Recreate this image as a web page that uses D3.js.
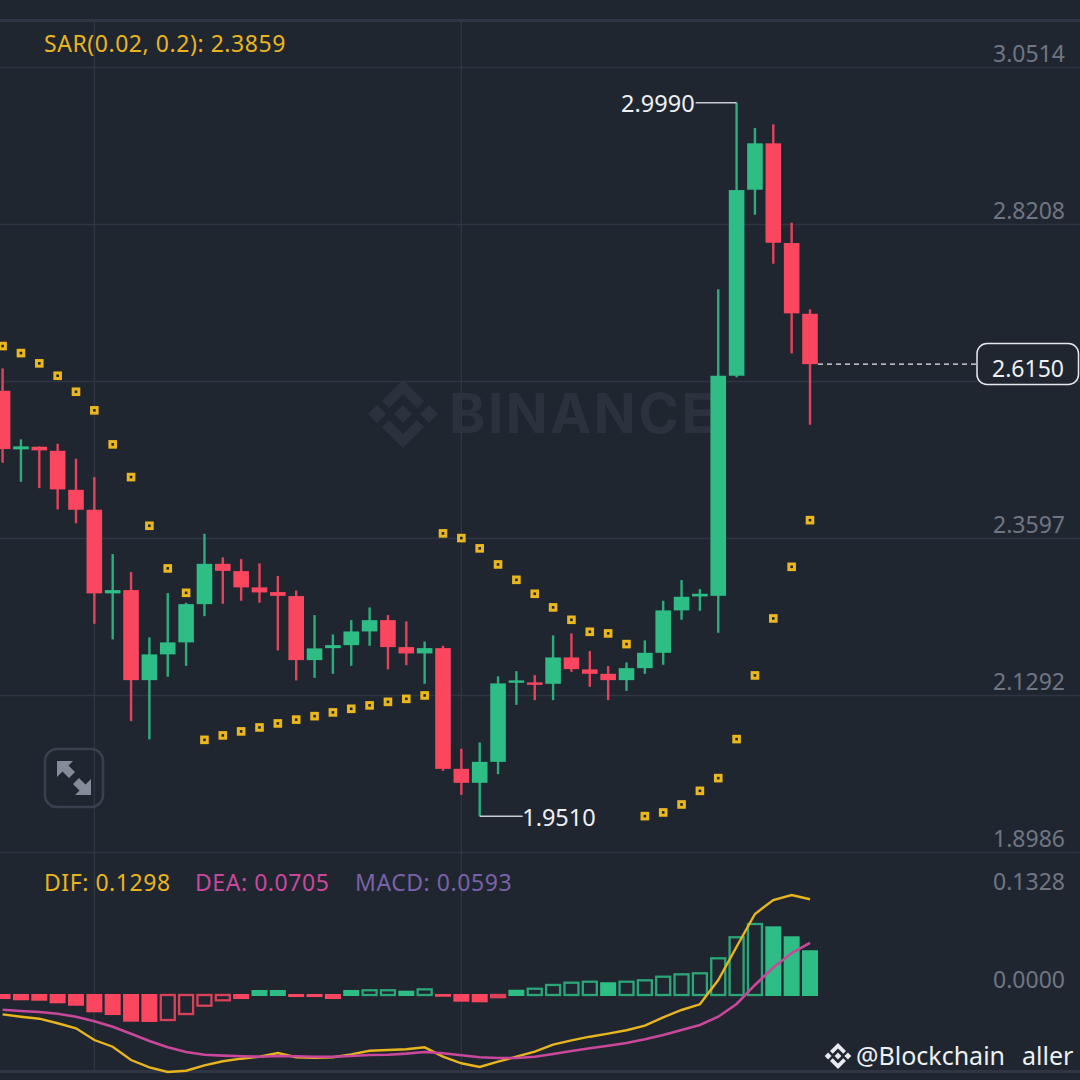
<!DOCTYPE html>
<html>
<head>
<meta charset="utf-8">
<style>
  html, body { margin: 0; padding: 0; background: #1f2630; }
  svg { display: block; }
  text { font-family: "Noto Sans", sans-serif; }
</style>
<script src="https://cdn.jsdelivr.net/npm/d3@7"></script>
</head>
<body>
<svg width="1080" height="1080"></svg>
<script>
// candles, oldest first
const opens = [2.5759,2.4899,2.4937,2.4878,2.4305,2.4012,2.2784,2.2832,2.1510,2.1888,2.2064,2.2626,2.3218,2.3111,2.2872,2.2803,2.2744,2.1804,2.1980,2.2024,2.2225,2.2391,2.1995,2.1902,2.1980,2.0207,2.0002,2.0310,2.1471,2.1476,2.1456,2.1843,2.1667,2.1603,2.1510,2.1686,2.1911,2.2534,2.2739,2.2748,2.5980,2.8712,2.9393,2.7929,2.6890];
const highs = [2.6088,2.5046,2.4943,2.4981,2.4761,2.4492,2.3361,2.3096,2.2137,2.2788,2.2646,2.3659,2.3312,2.3287,2.3224,2.3038,2.2825,2.2465,2.2181,2.2391,2.2578,2.2465,2.2372,2.2078,2.2014,2.0501,2.0595,2.1565,2.1642,2.1584,2.2167,2.2196,2.1936,2.1716,2.1770,2.2093,2.2675,2.2979,2.2847,2.7249,2.9990,2.9618,2.9672,2.8227,2.6955];
const lows = [2.4702,2.4423,2.4330,2.4017,2.3812,2.2337,2.2108,2.0908,2.0639,2.1559,2.1720,2.2450,2.2631,2.2675,2.2646,2.1946,2.1506,2.1544,2.1603,2.1720,2.2014,2.1667,2.1730,2.1456,2.0178,1.9825,1.9510,2.0129,2.1147,2.1216,2.1216,2.1632,2.1412,2.1216,2.1353,2.1603,2.1735,2.2396,2.2528,2.2205,2.5956,2.8345,2.7625,2.6309,2.5260];
const closes = [2.4903,2.4943,2.4884,2.4311,2.4012,2.2784,2.2832,2.1510,2.1888,2.2064,2.2626,2.3218,2.3115,2.2872,2.2798,2.2748,2.1804,2.1976,2.2024,2.2225,2.2391,2.1995,2.1902,2.1980,2.0207,2.0002,2.0310,2.1462,2.1506,2.1441,2.1843,2.1672,2.1603,2.1510,2.1686,2.1911,2.2534,2.2734,2.2778,2.5980,2.8707,2.9393,2.7933,2.6896,2.6150];
const sar = [2.6416,2.6313,2.6162,2.5980,2.5745,2.5472,2.4972,2.4492,2.3777,2.3151,2.2792,2.0633,2.0698,2.0757,2.0815,2.0874,2.0930,2.0981,2.1036,2.1089,2.1139,2.1191,2.1235,2.1285,2.3665,2.3596,2.3445,2.3209,2.2983,2.2778,2.2578,2.2396,2.2220,2.2196,2.2039,1.9513,1.9567,1.9684,1.9884,2.0071,2.0644,2.1579,2.2416,2.3174,2.3859];

// macd panel
const macdHist = [-.0041,-.0058,-.0064,-.0099,-.0132,-.0221,-.0258,-.0348,-.0352,-.0339,-.0258,-.0145,-.0072,-.0041,.0054,.0054,-.0014,-.0014,-.0041,.0054,.0064,.0064,.0045,.0077,-.0010,-.0077,-.0085,-.0030,.0058,.0085,.0136,.0167,.0180,.0159,.0180,.0199,.0248,.0280,.0294,.0497,.0782,.0962,.0917,.0782,.0593];
const dif = [-.0262,-.0294,-.0321,-.0383,-.0451,-.0610,-.0701,-.0881,-.0980,-.1043,-.1026,-.0953,-.0898,-.0863,-.0836,-.0786,-.0844,-.0850,-.0844,-.0804,-.0755,-.0745,-.0736,-.0709,-.0836,-.0925,-.0976,-.0904,-.0836,-.0768,-.0673,-.0614,-.0565,-.0524,-.0478,-.0416,-.0302,-.0203,-.0126,.0203,.0654,.1098,.1287,.1355,.1298];
const dea = [-.0199,-.0217,-.0230,-.0253,-.0294,-.0356,-.0430,-.0524,-.0623,-.0709,-.0772,-.0809,-.0822,-.0831,-.0836,-.0827,-.0831,-.0836,-.0836,-.0827,-.0813,-.0809,-.0795,-.0772,-.0790,-.0817,-.0844,-.0854,-.0854,-.0836,-.0799,-.0759,-.0722,-.0687,-.0650,-.0600,-.0542,-.0474,-.0407,-.0294,-.0122,.0136,.0373,.0569,.0705];
// bars drawn as outlines in the picture
const hollowBars = [9,10,11,12,20,21,23,27,29,30,31,32,34,35,36,37,38,39,40,41];

const priceGrid = [3.0514,2.8208,2.5903,2.3597,2.1292,1.8986];
const priceLabels = [3.0514,2.8208,2.3597,2.1292,1.8986];
const macdLabels = [0.1328,0];
const lastPrice = 2.6150;
const highMark = 2.9990;
const lowMark = 1.9510;
const timeGrid = [5,25];   // candle index of the two vertical grid lines

const UP = '#2ebd85', DOWN = '#fb4660', BG = '#1f2630', GRID = '#2f3542', AXIS = '#6f7683';
const YELLOW = '#e8b51f', PINK = '#c9489c', PURPLE = '#7a62a8';

const svg = d3.select('svg');
const x = d3.scaleLinear().domain([0, 44]).range([2.6, 810]);
const y = d3.scaleLinear().domain([1.8986, 3.0514]).range([852, 67]);
const yM = d3.scaleLinear().domain([0, 0.1328]).range([995, 897]);
const idx = d3.range(opens.length);

svg.append('rect').attr('width', 1080).attr('height', 1080).attr('fill', BG);

// frame lines top and bottom
svg.append('line').attr('x1', 0).attr('x2', 1080).attr('y1', 20.5).attr('y2', 20.5).attr('stroke', GRID).attr('stroke-width', 3);
svg.append('line').attr('x1', 0).attr('x2', 1080).attr('y1', 1071.5).attr('y2', 1071.5).attr('stroke', GRID).attr('stroke-width', 3);

// grid
svg.append('g').selectAll('line').data(timeGrid).enter().append('line')
  .attr('x1', d => x(d)).attr('x2', d => x(d)).attr('y1', 22).attr('y2', 1070)
  .attr('stroke', GRID).attr('stroke-width', 1.4);
const grid = svg.append('g').call(d3.axisRight(y).tickValues(priceGrid).tickSize(1080).tickFormat(''));
grid.select('.domain').remove();
grid.selectAll('line').attr('stroke', GRID).attr('stroke-width', 1.6);

// binance watermark
const wm = svg.append('g').attr('fill', '#2c323d');
const logo = wm.append('g').attr('transform', 'translate(403,414)');
[[0,0,8],[-26,0,8],[26,0,8]].forEach(d => {
  logo.append('path').attr('d', `M${d[0]-d[2]*1.15} ${d[1]}L${d[0]} ${d[1]-d[2]*1.15}L${d[0]+d[2]*1.15} ${d[1]}L${d[0]} ${d[1]+d[2]*1.15}Z`);
});
logo.append('path').attr('d', 'M0 -34L21 -13L14 -6L0 -20L-14 -6L-21 -13Z');
logo.append('path').attr('d', 'M0 34L21 13L14 6L0 20L-14 6L-21 13Z');
wm.append('text').attr('x', 449).attr('y', 433).attr('font-size', 55).attr('font-weight', 700).attr('letter-spacing', 2.5).style('font-family', 'Inter, "Noto Sans", sans-serif').text('BINANCE');

// wicks + bodies
const color = i => closes[i] >= opens[i] ? UP : DOWN;
svg.append('g').selectAll('rect').data(idx).enter().append('rect')
  .attr('x', i => x(i) - 1.2).attr('width', 2.4)
  .attr('y', i => y(highs[i])).attr('height', i => y(lows[i]) - y(highs[i]))
  .attr('fill', color).attr('opacity', 0.9);
svg.append('g').selectAll('rect').data(idx).enter().append('rect')
  .attr('x', i => x(i) - 7.8).attr('width', 15.6)
  .attr('y', i => y(Math.max(opens[i], closes[i])))
  .attr('height', i => Math.max(2, Math.abs(y(opens[i]) - y(closes[i]))))
  .attr('fill', color);

// sar dots
svg.append('g').selectAll('rect').data(idx).enter().append('rect')
  .attr('x', i => x(i) - 2.8).attr('y', i => y(sar[i]) - 2.8)
  .attr('width', 5.6).attr('height', 5.6)
  .attr('fill', '#1f2630').attr('stroke', '#eab81e').attr('stroke-width', 3);

// high / low / last markers
svg.append('path').attr('d', `M${x(40)} ${y(highMark)}H${x(40) - 41}`).attr('stroke', '#c9ccd2').attr('stroke-width', 1.5).attr('fill', 'none');
svg.append('path').attr('d', `M${x(26)} ${y(lowMark)}H${x(26) + 43}`).attr('stroke', '#c9ccd2').attr('stroke-width', 1.5).attr('fill', 'none');
svg.append('text').attr('x', x(40) - 42).attr('y', y(highMark) + 9).attr('text-anchor', 'end').attr('font-size', 23.5).attr('fill', '#eef0f3').text(highMark.toFixed(4));
svg.append('text').attr('x', x(26) + 42.5).attr('y', y(lowMark) + 10).attr('font-size', 23.5).attr('fill', '#eef0f3').text(lowMark.toFixed(4));
svg.append('line').attr('x1', x(44) + 8).attr('x2', 977).attr('y1', y(lastPrice)).attr('y2', y(lastPrice))
  .attr('stroke', '#e8eaee').attr('stroke-width', 1.2).attr('stroke-dasharray', '5 4');

// price axis labels
const axisP = svg.append('g').attr('transform', 'translate(1065,0)')
  .call(d3.axisLeft(y).tickValues(priceLabels).tickSize(0).tickPadding(0).tickFormat(d => d.toFixed(4)));
axisP.select('.domain').remove();
axisP.selectAll('text').attr('dy', -5.5).attr('fill', AXIS).attr('font-size', 23).attr('text-anchor', 'end');

// last price tag
svg.append('rect').attr('x', 977).attr('y', 343.5).attr('width', 101.5).attr('height', 41).attr('rx', 10)
  .attr('fill', BG).attr('stroke', '#e6e8ec').attr('stroke-width', 1.5);
svg.append('text').attr('x', 1028).attr('y', y(lastPrice) + 13).attr('text-anchor', 'middle').attr('font-size', 23).attr('fill', '#eef0f3').text(lastPrice.toFixed(4));

// expand button
const btn = svg.append('g').attr('transform', 'translate(74,778)');
btn.append('rect').attr('x', -29).attr('y', -29).attr('width', 58).attr('height', 58).attr('rx', 12)
  .attr('fill', 'none').attr('stroke', '#3a404d').attr('stroke-width', 2.6);
btn.append('path').attr('fill', '#858b98')
  .attr('d', 'M-17 -17H-1L-5.5 -12.5L1 -6L-5 0L-11.5 -6.5L-17 -1Z M17 17H1L5.5 12.5L-1 6L5 0L11.5 6.5L17 1Z');

// macd bars
const hollow = i => hollowBars.includes(i);
const barColor = i => macdHist[i] >= 0 ? UP : DOWN;
svg.append('g').selectAll('rect').data(idx).enter().append('rect')
  .attr('x', i => x(i) - 7).attr('width', 14)
  .attr('y', i => Math.min(yM(macdHist[i]), yM(0)))
  .attr('height', i => Math.abs(yM(macdHist[i]) - yM(0)))
  .attr('fill', i => hollow(i) ? 'none' : barColor(i))
  .attr('stroke', barColor).attr('stroke-width', i => hollow(i) ? 2.3 : 2)
  .attr('stroke-opacity', i => hollow(i) ? 0.85 : 1);

// macd lines
const lineM = vals => d3.line().x((d, i) => x(i)).y(d => yM(d))(vals);
svg.append('path').attr('d', lineM(dif)).attr('fill', 'none').attr('stroke', YELLOW).attr('stroke-width', 2.4);
svg.append('path').attr('d', lineM(dea)).attr('fill', 'none').attr('stroke', PINK).attr('stroke-width', 2.6);

const axisM = svg.append('g').attr('transform', 'translate(1065,0)')
  .call(d3.axisLeft(yM).tickValues(macdLabels).tickSize(0).tickPadding(0).tickFormat(d => d.toFixed(4)));
axisM.select('.domain').remove();
axisM.selectAll('text').attr('dy', -7.5).attr('fill', AXIS).attr('font-size', 23).attr('text-anchor', 'end');

// legends
const legend = (tx, ty, col, s) => svg.append('text').attr('x', tx).attr('y', ty).attr('font-size', 23).attr('letter-spacing', 0.55).attr('fill', col).text(s);
legend(44, 52, YELLOW, 'SAR(0.02, 0.2): ' + sar[44].toFixed(4));
legend(44, 891, YELLOW, 'DIF: ' + dif[44].toFixed(4));
legend(195, 891, PINK, 'DEA: ' + dea[44].toFixed(4));
legend(355, 891, PURPLE, 'MACD: ' + macdHist[44].toFixed(4));

// corner credit
const mark = svg.append('g').attr('transform', 'translate(838,1056) scale(0.38)').attr('fill', '#e8eaee');
[[0,0],[-26,0],[26,0]].forEach(d => {
  mark.append('path').attr('d', `M${d[0]-9} ${d[1]}L${d[0]} ${d[1]-9}L${d[0]+9} ${d[1]}L${d[0]} ${d[1]+9}Z`);
});
mark.append('path').attr('d', 'M0 -34L21 -13L14 -6L0 -20L-14 -6L-21 -13Z');
mark.append('path').attr('d', 'M0 34L21 13L14 6L0 20L-14 6L-21 13Z');
svg.append('text').attr('x', 856).attr('y', 1065).attr('font-size', 25).attr('fill', '#eef0f3').text('@Blockchain');
svg.append('text').attr('x', 1022).attr('y', 1065).attr('font-size', 25).attr('fill', '#eef0f3').text('aller');
</script>
</body>
</html>
